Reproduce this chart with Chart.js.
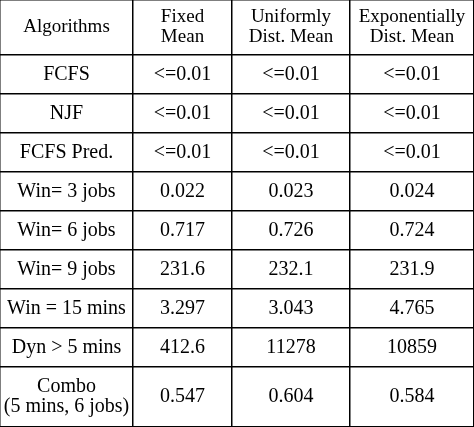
<!DOCTYPE html>
<html>
<head>
<meta charset="utf-8">
<script src="https://cdn.jsdelivr.net/npm/chart.js@4"></script>
<style>
  html, body { margin: 0; padding: 0; background: #fff; }
  #wrap { width: 474px; height: 427px; }
</style>
</head>
<body>
<div id="wrap"><canvas id="tbl"></canvas></div>
<script>
// table content
const headers = [['Algorithms'], ['Fixed', 'Mean'], ['Uniformly', 'Dist. Mean'], ['Exponentially', 'Dist. Mean']];
const algorithms = [['FCFS'], ['NJF'], ['FCFS Pred.'], ['Win= 3 jobs'], ['Win= 6 jobs'], ['Win= 9 jobs'],
  ['Win = 15 mins'], ['Dyn > 5 mins'], ['Combo', '(5 mins, 6 jobs)']];
const fixedMean = ['<=0.01', '<=0.01', '<=0.01', '0.022', '0.717', '231.6', '3.297', '412.6', '0.547'];
const uniformMean = ['<=0.01', '<=0.01', '<=0.01', '0.023', '0.726', '232.1', '3.043', '11278', '0.604'];
const expMean = ['<=0.01', '<=0.01', '<=0.01', '0.024', '0.724', '231.9', '4.765', '10859', '0.584'];

// cell borders (layout)
const colEdges = [0, 133, 232, 350, 474];
const rowEdges = [0, 55, 94, 133, 172, 211, 250, 289, 328, 367, 427];

const rows = [headers];
algorithms.forEach((a, i) => rows.push([a, [fixedMean[i]], [uniformMean[i]], [expMean[i]]]));

const cellText = {
    id: 'cellText',
    afterDraw(chart) {
        const { ctx, scales: { x, y } } = chart;
        ctx.save();
        ctx.fillStyle = '#000';
        ctx.textAlign = 'center';
        ctx.textBaseline = 'middle';
        rows.forEach((row, r) => {
            const cy = y.getPixelForValue((rowEdges[r] + rowEdges[r + 1]) / 2);
            row.forEach((lines, c) => {
                const cx = x.getPixelForValue((colEdges[c] + colEdges[c + 1]) / 2);
                const lh = 20;
                ctx.font = (r === 0 ? '19px' : '20px') + ' "Liberation Serif", serif';
                lines.forEach((t, k) => {
                    ctx.fillText(t, cx, cy + (k - (lines.length - 1) / 2) * lh);
                });
            });
        });
        ctx.restore();
    }
};

new Chart(document.getElementById('tbl'), {
    type: 'scatter',
    data: { datasets: [{ data: [] }] },
    options: {
        responsive: true,
        maintainAspectRatio: false,
        animation: false,
        layout: { padding: 0 },
        plugins: { legend: { display: false }, tooltip: { enabled: false } },
        scales: {
            x: {
                type: 'linear', min: 0, max: 474,
                afterBuildTicks: s => { s.ticks = colEdges.map(v => ({ value: v })); },
                ticks: { display: false },
                grid: { color: '#000', lineWidth: 1.5, drawTicks: false },
                border: { display: false }
            },
            y: {
                type: 'linear', min: 0, max: 427, reverse: true,
                afterBuildTicks: s => { s.ticks = rowEdges.map(v => ({ value: v })); },
                ticks: { display: false },
                grid: { color: '#000', lineWidth: 1.5, drawTicks: false },
                border: { display: false }
            }
        }
    },
    plugins: [cellText]
});
</script>
</body>
</html>
